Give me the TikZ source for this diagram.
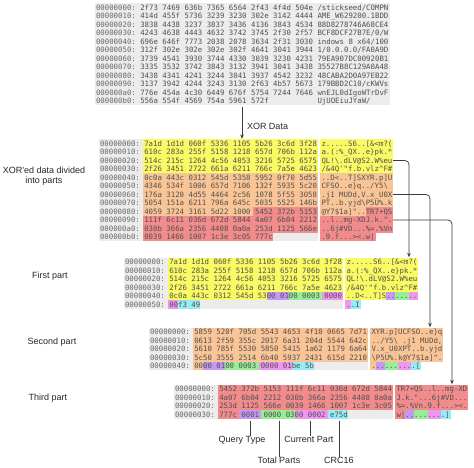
\documentclass[tikz,border=0pt]{standalone}
\usepackage{fontspec}
\setmainfont{Liberation Sans}
\setmonofont{DejaVu Sans Mono}
\usetikzlibrary{arrows.meta}
\definecolor{hxtext}{RGB}{80,80,80}
\definecolor{hxaddrc}{RGB}{105,105,105}
\definecolor{hxgrey}{RGB}{236,236,236}
\definecolor{cyel}{RGB}{250,250,100}
\definecolor{cora}{RGB}{250,197,150}
\definecolor{cred}{RGB}{242,140,140}
\definecolor{cpur}{RGB}{196,152,245}
\definecolor{cgrn}{RGB}{150,238,150}
\definecolor{cmag}{RGB}{240,150,240}
\definecolor{ccyn}{RGB}{150,236,246}
\definecolor{clin}{RGB}{60,60,60}
\def\hxcw{4.43}
\def\hxrh{8.5}
\newcommand\hxfont{\ttfamily\fontsize{7.36}{8.5}\selectfont}
\newcommand\hxrow[6]{%
  \node[hxaddr] (#1a) at ({#2},{#3+2.5}) {#4:};
  \node[hxtxt] (#1h) at ({#2+10*\hxcw},{#3+2.5}) {#5};
  \node[hxtxt] (#1s) at ({#2+50*\hxcw},{#3+2.5}) {#6};
}
\newcommand\hxseg[5]{\fill[#5] ({#1+(10+(#3))*\hxcw},{#2-\hxrh/2-0.15}) rectangle ({#1+(10+(#4))*\hxcw},{#2+\hxrh/2+0.15});}
\newcommand\axseg[5]{\fill[#5] ({#1+(50+(#3))*\hxcw},{#2-\hxrh/2-0.15}) rectangle ({#1+(50+(#4))*\hxcw},{#2+\hxrh/2+0.15});}
\newcommand\hxfull[3]{\hxseg{#1}{#2}{-0.25}{39.25}{#3}\axseg{#1}{#2}{-0.25}{16.25}{#3}}
\newcommand\hxbase[3]{\fill[hxgrey] ({#1-1.2},{#2-\hxrh/2}) rectangle ({#1+49.25*\hxcw},{#2+(#3)*\hxrh+\hxrh/2});}
\tikzset{
  hxtxt/.style={inner sep=0pt, outer sep=0pt, anchor=base west, font=\hxfont, text=hxtext},
  hxaddr/.style={hxtxt, text=hxaddrc},
  lab/.style={inner sep=0pt, outer sep=0pt, font=\fontsize{9}{10}\selectfont, text=black!85},
  hxconn/.style={draw=clin, line width=0.75pt, -{Stealth[length=4.5pt,width=3.6pt]}},
  hxtick/.style={draw=clin, line width=0.8pt}
}
\begin{document}
\begin{tikzpicture}[x=1pt,y=-1pt]
\useasboundingbox (0,0) rectangle (474,467);
% ---------- top block ----------
\def\ta{96}\def\ty{7.5}
\fill[hxgrey] ({\ta-1.5},{\ty-\hxrh/2}) rectangle ({\ta+66*\hxcw+1.5},{\ty+11*\hxrh+\hxrh/2});
\hxrow{t0}{\ta}{\ty+0*\hxrh}{00000000}{2f73 7469 636b 7365 6564 2f43 4f4d 504e}{/stickseed/COMPN}
\hxrow{t1}{\ta}{\ty+1*\hxrh}{00000010}{414d 455f 5736 3239 3230 302e 3142 4444}{AME\_W629200.1BDD}
\hxrow{t2}{\ta}{\ty+2*\hxrh}{00000020}{3838 4438 3237 3837 3436 4136 3843 4534}{88D8278746A68CE4}
\hxrow{t3}{\ta}{\ty+3*\hxrh}{00000030}{4243 4638 4443 4632 3742 3745 2f30 2f57}{BCF8DCF27B7E/0/W}
\hxrow{t4}{\ta}{\ty+4*\hxrh}{00000040}{696e 646f 7773 2038 2078 3634 2f31 3030}{indows\ 8\ x64/100}
\hxrow{t5}{\ta}{\ty+5*\hxrh}{00000050}{312f 302e 302e 302e 302f 4641 3041 3944}{1/0.0.0.0/FA0A9D}
\hxrow{t6}{\ta}{\ty+6*\hxrh}{00000060}{3739 4541 3930 3744 4330 3039 3230 4231}{79EA907DC00920B1}
\hxrow{t7}{\ta}{\ty+7*\hxrh}{00000070}{3335 3532 3742 3843 3132 3941 3041 3438}{35527B8C129A0A48}
\hxrow{t8}{\ta}{\ty+8*\hxrh}{00000080}{3438 4341 4241 3244 3041 3937 4542 3232}{48CABA2D0A97EB22}
\hxrow{t9}{\ta}{\ty+9*\hxrh}{00000090}{3137 3942 4244 3243 3130 2f63 4b57 5673}{179BBD2C10/cKWVs}
\hxrow{t10}{\ta}{\ty+10*\hxrh}{000000a0}{776e 454a 4c30 6449 676f 5754 7244 7646}{wnEJL0dIgoWTrDvF}
\hxrow{t11}{\ta}{\ty+11*\hxrh}{000000b0}{556a 554f 4569 754a 5961 572f}{UjUOEiuJYaW/}
% ---------- XOR block ----------
\def\xa{100}\def\xy{143.5}
\hxbase{\xa}{\xy}{11}
\hxfull{\xa}{\xy+0*\hxrh}{cyel}
\hxfull{\xa}{\xy+1*\hxrh}{cyel}
\hxfull{\xa}{\xy+2*\hxrh}{cyel}
\hxfull{\xa}{\xy+3*\hxrh}{cyel}
\hxfull{\xa}{\xy+4*\hxrh}{cora}
\hxfull{\xa}{\xy+5*\hxrh}{cora}
\hxfull{\xa}{\xy+6*\hxrh}{cora}
\hxfull{\xa}{\xy+7*\hxrh}{cora}
\hxseg{\xa}{\xy+8*\hxrh}{-0.25}{24.5}{cora}\hxseg{\xa}{\xy+8*\hxrh}{24.5}{39.25}{cred}
\axseg{\xa}{\xy+8*\hxrh}{-0.25}{10}{cora}\axseg{\xa}{\xy+8*\hxrh}{10}{16.25}{cred}
\hxfull{\xa}{\xy+9*\hxrh}{cred}
\hxfull{\xa}{\xy+10*\hxrh}{cred}
\hxseg{\xa}{\xy+11*\hxrh}{-0.25}{29}{cred}\axseg{\xa}{\xy+11*\hxrh}{-0.25}{12.2}{cred}
\hxrow{x0}{\xa}{\xy+0*\hxrh}{00000000}{7a1d 1d1d 060f 5336 1105 5b26 3c6d 3f28}{z.....S6..[\&<m?(}
\hxrow{x1}{\xa}{\xy+1*\hxrh}{00000010}{610c 283a 255f 5158 1218 657d 706b 112a}{a.(:\%\_QX..e\}pk.*}
\hxrow{x2}{\xa}{\xy+2*\hxrh}{00000020}{514c 215c 1264 4c56 4053 3216 5725 6575}{QL!\textbackslash.dLV@S2.W\%eu}
\hxrow{x3}{\xa}{\xy+3*\hxrh}{00000030}{2f26 3451 2722 661a 6211 766c 7a5e 4623}{/\&4Q'"f.b.vlz\textasciicircum F\#}
\hxrow{x4}{\xa}{\xy+4*\hxrh}{00000040}{0c0a 443c 0312 545d 5358 5952 0f70 5d55}{..D<..T]SXYR.p]U}
\hxrow{x5}{\xa}{\xy+5*\hxrh}{00000050}{4346 534f 1006 657d 7106 132f 5935 5c20}{CFSO..e\}q../Y5\textbackslash}
\hxrow{x6}{\xa}{\xy+6*\hxrh}{00000060}{176a 3120 4d55 4464 2c56 1078 5f55 3058}{.j1\ MUDd,V.x\_U0X}
\hxrow{x7}{\xa}{\xy+7*\hxrh}{00000070}{5054 151a 6211 796a 645c 5035 5525 146b}{PT..b.yjd\textbackslash P5U\%.k}
\hxrow{x8}{\xa}{\xy+8*\hxrh}{00000080}{4059 3724 3161 5d22 1000 5452 372b 5153}{@Y7\$1a]"..TR7+QS}
\hxrow{x9}{\xa}{\xy+9*\hxrh}{00000090}{111f 6c11 036d 672d 5844 4a07 6b04 2212}{..l..mg-XDJ.k.".}
\hxrow{x10}{\xa}{\xy+10*\hxrh}{000000a0}{030b 366a 2356 4408 0a0a 253d 1125 566e}{..6j\#VD...\%=.\%Vn}
\hxrow{x11}{\xa}{\xy+11*\hxrh}{000000b0}{0039 1466 1007 1c3e 3c05 777c}{.9.f...><.w|}
% ---------- first part ----------
\def\fa{125}\def\fy{262}
\hxbase{\fa}{\fy}{5}
\hxfull{\fa}{\fy+0*\hxrh}{cyel}
\hxfull{\fa}{\fy+1*\hxrh}{cyel}
\hxfull{\fa}{\fy+2*\hxrh}{cyel}
\hxfull{\fa}{\fy+3*\hxrh}{cyel}
\hxseg{\fa}{\fy+4*\hxrh}{-0.25}{22}{cyel}\hxseg{\fa}{\fy+4*\hxrh}{22}{27}{cpur}\hxseg{\fa}{\fy+4*\hxrh}{27}{34.5}{cgrn}\hxseg{\fa}{\fy+4*\hxrh}{34.5}{39.25}{cmag}
\axseg{\fa}{\fy+4*\hxrh}{-0.25}{9}{cyel}\axseg{\fa}{\fy+4*\hxrh}{9}{11}{cpur}\axseg{\fa}{\fy+4*\hxrh}{11}{14}{cgrn}\axseg{\fa}{\fy+4*\hxrh}{14}{16.25}{cmag}
\hxseg{\fa}{\fy+5*\hxrh}{-0.25}{2}{cmag}\hxseg{\fa}{\fy+5*\hxrh}{2}{7}{ccyn}
\axseg{\fa}{\fy+5*\hxrh}{-0.25}{1}{cmag}\axseg{\fa}{\fy+5*\hxrh}{1}{3.2}{ccyn}
\hxrow{f0}{\fa}{\fy+0*\hxrh}{00000000}{7a1d 1d1d 060f 5336 1105 5b26 3c6d 3f28}{z.....S6..[\&<m?(}
\hxrow{f1}{\fa}{\fy+1*\hxrh}{00000010}{610c 283a 255f 5158 1218 657d 706b 112a}{a.(:\%\_QX..e\}pk.*}
\hxrow{f2}{\fa}{\fy+2*\hxrh}{00000020}{514c 215c 1264 4c56 4053 3216 5725 6575}{QL!\textbackslash.dLV@S2.W\%eu}
\hxrow{f3}{\fa}{\fy+3*\hxrh}{00000030}{2f26 3451 2722 661a 6211 766c 7a5e 4623}{/\&4Q'"f.b.vlz\textasciicircum F\#}
\hxrow{f4}{\fa}{\fy+4*\hxrh}{00000040}{0c0a 443c 0312 545d 5300 0100 0003 0000}{..D<..T]S.......}
\hxrow{f5}{\fa}{\fy+5*\hxrh}{00000050}{00f3 49}{..I}
% ---------- second part ----------
\def\sa{150}\def\sy{332}
\hxbase{\sa}{\sy}{4}
\hxfull{\sa}{\sy+0*\hxrh}{cora}
\hxfull{\sa}{\sy+1*\hxrh}{cora}
\hxfull{\sa}{\sy+2*\hxrh}{cora}
\hxfull{\sa}{\sy+3*\hxrh}{cora}
\hxseg{\sa}{\sy+4*\hxrh}{-0.25}{2}{cora}\hxseg{\sa}{\sy+4*\hxrh}{2}{7}{cpur}\hxseg{\sa}{\sy+4*\hxrh}{7}{14.5}{cgrn}\hxseg{\sa}{\sy+4*\hxrh}{14.5}{22}{cmag}\hxseg{\sa}{\sy+4*\hxrh}{22}{27}{ccyn}
\axseg{\sa}{\sy+4*\hxrh}{-0.25}{1}{cora}\axseg{\sa}{\sy+4*\hxrh}{1}{3}{cpur}\axseg{\sa}{\sy+4*\hxrh}{3}{6}{cgrn}\axseg{\sa}{\sy+4*\hxrh}{6}{9}{cmag}\axseg{\sa}{\sy+4*\hxrh}{9}{11.2}{ccyn}
\hxrow{s0}{\sa}{\sy+0*\hxrh}{00000000}{5859 520f 705d 5543 4653 4f10 0665 7d71}{XYR.p]UCFSO..e\}q}
\hxrow{s1}{\sa}{\sy+1*\hxrh}{00000010}{0613 2f59 355c 2017 6a31 204d 5544 642c}{../Y5\textbackslash\ .j1\ MUDd,}
\hxrow{s2}{\sa}{\sy+2*\hxrh}{00000020}{5610 785f 5530 5850 5415 1a62 1179 6a64}{V.x\_U0XPT..b.yjd}
\hxrow{s3}{\sa}{\sy+3*\hxrh}{00000030}{5c50 3555 2514 6b40 5937 2431 615d 2210}{\textbackslash P5U\%.k@Y7\$1a]".}
\hxrow{s4}{\sa}{\sy+4*\hxrh}{00000040}{0000 0100 0003 0000 01be 5b}{..........[}
% ---------- third part ----------
\def\ha{175}\def\hy{389}
\hxbase{\ha}{\hy}{3}
\hxfull{\ha}{\hy+0*\hxrh}{cred}
\hxfull{\ha}{\hy+1*\hxrh}{cred}
\hxfull{\ha}{\hy+2*\hxrh}{cred}
\hxseg{\ha}{\hy+3*\hxrh}{-0.25}{4.5}{cred}\hxseg{\ha}{\hy+3*\hxrh}{4.5}{9.5}{cpur}\hxseg{\ha}{\hy+3*\hxrh}{9.5}{17}{cgrn}\hxseg{\ha}{\hy+3*\hxrh}{17}{24.5}{cmag}\hxseg{\ha}{\hy+3*\hxrh}{24.5}{29}{ccyn}
\axseg{\ha}{\hy+3*\hxrh}{-0.25}{2}{cred}\axseg{\ha}{\hy+3*\hxrh}{2}{4}{cpur}\axseg{\ha}{\hy+3*\hxrh}{4}{7}{cgrn}\axseg{\ha}{\hy+3*\hxrh}{7}{10}{cmag}\axseg{\ha}{\hy+3*\hxrh}{10}{12.2}{ccyn}
\hxrow{h0}{\ha}{\hy+0*\hxrh}{00000000}{5452 372b 5153 111f 6c11 036d 672d 5844}{TR7+QS..l..mg-XD}
\hxrow{h1}{\ha}{\hy+1*\hxrh}{00000010}{4a07 6b04 2212 030b 366a 2356 4408 0a0a}{J.k."...6j\#VD...}
\hxrow{h2}{\ha}{\hy+2*\hxrh}{00000020}{253d 1125 566e 0039 1466 1007 1c3e 3c05}{\%=.\%Vn.9.f...><.}
\hxrow{h3}{\ha}{\hy+3*\hxrh}{00000030}{777c 0001 0000 0300 0002 e75d}{w|.........]}
% ---------- labels ----------
\node[lab,align=center] (lxor) at (44,176.5) {XOR\textquotesingle ed data divided\\into parts};
\node[lab] (lfirst) at (50,276.5) {First part};
\node[lab] (lsecond) at (52,342.5) {Second part};
\node[lab] (lthird) at (48,398.5) {Third part};
\node[lab,anchor=west] (lxordata) at (247,126.5) {XOR Data};
% ---------- connectors ----------
\coordinate (topout) at (242,107);
\coordinate (xorin) at (242,138.8);
\draw[hxconn] (topout) -- (xorin);
\coordinate (c1s) at ({\xa+66*\hxcw+0.8},{\xy+2*\hxrh});
\coordinate (c1e) at (409,257.3);
\coordinate (c2s) at ({\xa+66*\hxcw+0.8},{\xy+6*\hxrh});
\coordinate (c2e) at (430,327.3);
\coordinate (c3s) at ({\xa+66*\hxcw+0.8},{\xy+9*\hxrh});
\coordinate (c3e) at (452,384.3);
\draw[hxconn,rounded corners=4pt] (c1s) -| (c1e);
\draw[hxconn,rounded corners=4pt] (c2s) -| (c2e);
\draw[hxconn,rounded corners=4pt] (c3s) -| (c3e);
% ---------- field labels ----------
\node[lab,anchor=north] (lqt) at (242,436) {Query Type};
\node[lab,anchor=north] (lcp) at (309,436) {Current Part};
\node[lab,anchor=north] (ltp) at (279,457) {Total Parts};
\node[lab,anchor=north] (lcrc) at (339,457) {CRC16};
\coordinate (pqt) at ({\ha+17*\hxcw},420.5);
\coordinate (ptp) at ({\ha+23.5*\hxcw},420.5);
\coordinate (pcp) at ({\ha+30.5*\hxcw},420.5);
\coordinate (pcrc) at ({\ha+37*\hxcw},420.5);
\draw[hxtick] (pqt) -- (pqt |- lqt.north);
\draw[hxtick] (ptp) -- (ptp |- ltp.north);
\draw[hxtick] (pcp) -- (pcp |- lcp.north);
\draw[hxtick] (pcrc) -- (pcrc |- lcrc.north);
\end{tikzpicture}
\end{document}
